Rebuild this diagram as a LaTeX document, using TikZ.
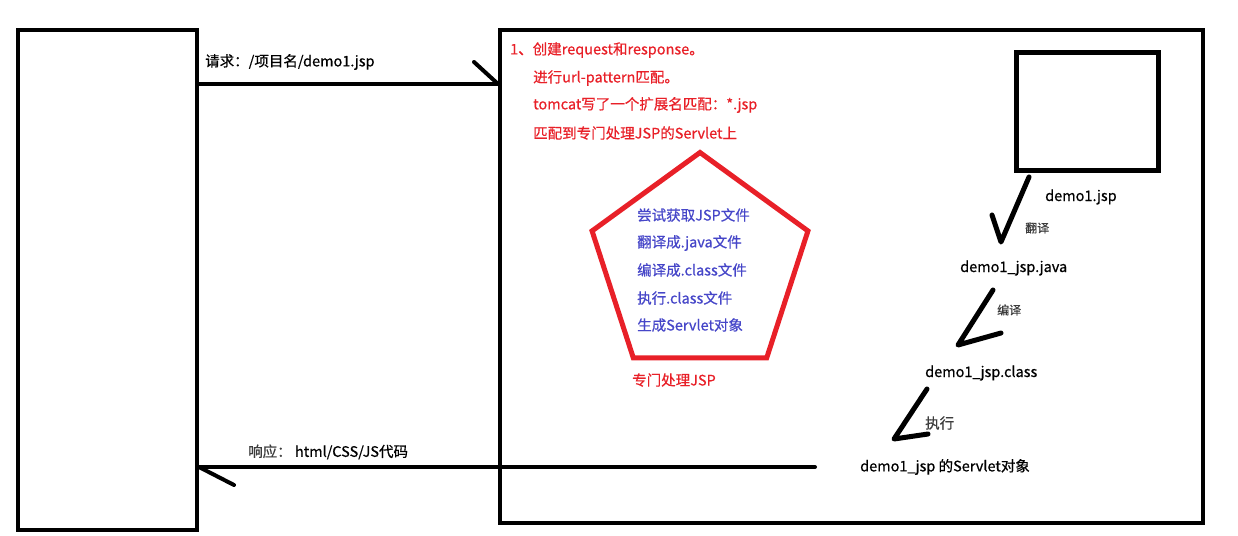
\documentclass[tikz,border=0pt]{standalone}
\usepackage{fontspec}
\setmainfont{Noto Sans CJK SC}[FakeBold=0.6]
\usetikzlibrary{shapes.geometric}
\definecolor{redtxt}{RGB}{232,32,40}
\definecolor{bluetxt}{RGB}{70,70,200}
\definecolor{graytxt}{RGB}{60,60,60}
\tikzset{
  box/.style={draw=black, line width=4pt, minimum width=#1, inner sep=0pt},
  pen/.style={line width=4pt, line cap=round, line join=round},
  penthick/.style={line width=5pt, line cap=round, line join=round},
  lbl/.style={anchor=west, inner sep=0pt, font=\fontsize{14.5}{16}\selectfont},
  redlbl/.style={lbl, text=redtxt},
  bluelbl/.style={lbl, text=bluetxt},
}
\begin{document}
\begin{tikzpicture}[x=1pt,y=-1pt]
\useasboundingbox (0,0) rectangle (1238,535);
% boxes
\node[box=179, minimum height=500] (client) at (107.5,280) {};
\node[box=703, minimum height=493] (server) at (851.5,276.5) {};
\node[draw=black, line width=5pt, minimum width=142, minimum height=117, inner sep=0pt] (jspbox) at (1087,111.5) {};
% pentagon
\node[regular polygon, regular polygon sides=5, draw=redtxt, line width=5pt, minimum size=227, inner sep=0pt] (penta) at (700,266) {};
% helper coordinates
\coordinate (y84) at (0,84);
\coordinate (y467) at (0,467);
% request arrow
\node[lbl] (reqlbl) at (205,62) {请求：/项目名/demo1.jsp};
\coordinate (reqS) at (client.east |- y84);
\coordinate (reqE) at (server.west |- y84);
\draw[pen] (reqS) -- (reqE);
\draw[pen] (reqE) -- ++(-24,-22);
% response arrow
\node[lbl] (resplbl) at (248,452) {\textcolor{graytxt}{响应：} html/CSS/JS代码};
\coordinate (respS) at (815,467);
\coordinate (respE) at (client.east |- y467);
\draw[pen] (respS) -- (respE);
\draw[pen] (respE) -- ++(35,18);
% red texts
\node[redlbl] (r1) at (510,50) {1、创建request和response。};
\node[redlbl] (r2) at (533,78) {进行url-pattern匹配。};
\node[redlbl] (r3) at (533,105) {tomcat写了一个扩展名匹配：*.jsp};
\node[redlbl] (r4) at (533,133) {匹配到专门处理JSP的Servlet上};
% blue texts in pentagon
\node[bluelbl] (b1) at (637,215) {尝试获取JSP文件};
\node[bluelbl] (b2) at (637,243) {翻译成.java文件};
\node[bluelbl] (b3) at (637,270) {编译成.class文件};
\node[bluelbl] (b4) at (637,298) {执行.class文件};
\node[bluelbl] (b5) at (637,325) {生成Servlet对象};
\node[redlbl] (pentlbl) at (632,380) {专门处理JSP};
% right chain
\node[lbl] (jspname) at (1045,197) {demo1.jsp};
\node[lbl, text=graytxt, font=\fontsize{12}{14}\selectfont] (fanyi) at (1025,228) {翻译};
\node[lbl] (javaname) at (960,268) {demo1\_jsp.java};
\node[lbl, text=graytxt, font=\fontsize{12}{14}\selectfont] (bianyi) at (997,310) {编译};
\node[lbl] (classname) at (925,373) {demo1\_jsp.class};
\node[lbl, text=graytxt] (zhixing) at (925,423) {执行};
\node[lbl] (servname) at (860,467) {demo1\_jsp 的Servlet对象};
% check arrows
\coordinate (a1s) at (1029,177);
\coordinate (a1t) at (1001,242);
\coordinate (a1h) at (992,215);
\draw[penthick] (a1s) -- (a1t) -- (a1h);
\coordinate (a2s) at (993,290);
\coordinate (a2t) at (958,345);
\coordinate (a2h) at (1001,333);
\draw[penthick] (a2s) -- (a2t) -- (a2h);
\coordinate (a3s) at (927,389);
\coordinate (a3t) at (894,439);
\coordinate (a3h) at (928,434);
\draw[penthick] (a3s) -- (a3t) -- (a3h);
\end{tikzpicture}
\end{document}
